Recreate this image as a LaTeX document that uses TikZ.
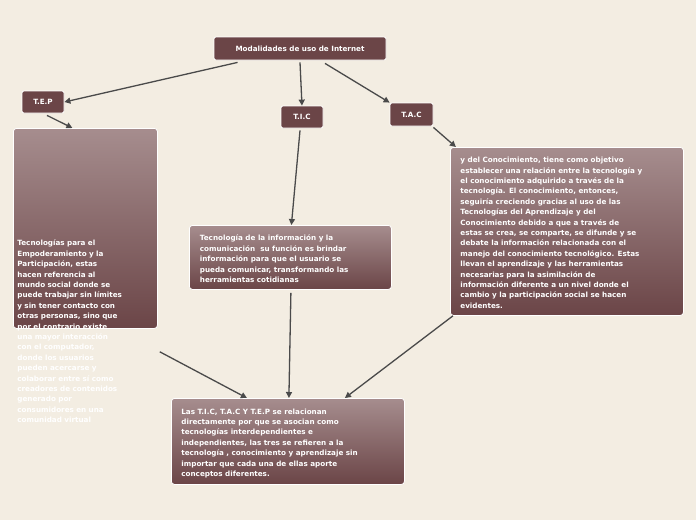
\documentclass[tikz,border=0pt]{standalone}
\usepackage{fontspec}
\setmainfont{DejaVu Sans}
\usetikzlibrary{arrows.meta}
\definecolor{bg}{HTML}{F3EDE2}
\definecolor{topc}{HTML}{A68D8E}
\definecolor{botc}{HTML}{6B4547}
\definecolor{arr}{HTML}{4A4A4A}
\tikzset{
 bx/.style={draw=white,line width=0.8pt,rounded corners=3pt,top color=topc,bottom color=botc,text=white,font=\bfseries\fontsize{7.2}{10.4}\selectfont,align=left,inner sep=0pt,anchor=north west},
 lbl/.style={draw=white,line width=0.8pt,rounded corners=2pt,fill=botc,text=white,font=\bfseries\fontsize{7.2}{9}\selectfont,inner sep=0pt},
 ar/.style={draw=arr,line width=1.3pt,-{Triangle[length=6pt,width=6pt]}}
}
\begin{document}
\begin{tikzpicture}[x=1pt,y=-1pt]
\fill[bg] (0,0) rectangle (696,520);
\useasboundingbox (0,0) rectangle (696,520);
\node[lbl,minimum width=172pt,minimum height=23pt] (title) at (300,48.5) {Modalidades de uso de Internet};
\node[lbl,minimum width=42pt,minimum height=22pt] (tep) at (43,102) {T.E.P};
\node[lbl,minimum width=42pt,minimum height=22pt] (tic) at (302,117) {T.I.C};
\node[lbl,minimum width=43pt,minimum height=23pt] (tac) at (411.5,114.5) {T.A.C};
\node[bx,minimum width=144pt,minimum height=200pt,text width=136pt,text depth=0pt] (tepd) at (13,128) {\rule{0pt}{14pt}\hspace{9pt}\parbox[t]{132pt}{Tecnologías para el\\Empoderamiento y la\\Participación, estas\\hacen referencia al\\mundo social donde se\\puede trabajar sin límites\\y sin tener contacto con\\otras personas, sino que\\por el contrario existe\\una mayor interacción\\con el computador,\\donde los usuarios\\pueden acercarse y\\colaborar entre sí como\\creadores de contenidos\\generado por\\consumidores en una\\comunidad virtual}};
\node[bx,minimum width=202pt,minimum height=64pt] (ticd) at (189,225) {\hspace{9pt}\parbox[t]{190pt}{\vspace{3pt}Tecnología de la información y la\\comunicación\ \ su función es brindar\\información para que el usuario se\\pueda comunicar, transformando las\\herramientas cotidianas}};
\node[bx,minimum width=233pt,minimum height=168pt] (tacd) at (450,147) {\hspace{9pt}\parbox[t]{222pt}{\vspace{3pt}y del Conocimiento, tiene como objetivo\\establecer una relación entre la tecnología y\\el conocimiento adquirido a través de la\\tecnología. El conocimiento, entonces,\\seguiría creciendo gracias al uso de las\\Tecnologías del Aprendizaje y del\\Conocimiento debido a que a través de\\estas se crea, se comparte, se difunde y se\\debate la información relacionada con el\\manejo del conocimiento tecnológico. Estas\\llevan el aprendizaje y las herramientas\\necesarias para la asimilación de\\información diferente a un nivel donde el\\cambio y la participación social se hacen\\evidentes.}};
\node[bx,minimum width=233pt,minimum height=86pt] (bot) at (171,398) {\hspace{9pt}\parbox[t]{222pt}{\vspace{4pt}Las T.I.C, T.A.C Y T.E.P se relacionan\\directamente por que se asocian como\\tecnologías interdependientes e\\independientes, las tres se refieren a la\\tecnología , conocimiento y aprendizaje sin\\importar que cada una de ellas aporte\\conceptos diferentes.}};
\draw[ar] (title.south west)++(24,2) -- (tep.east);
\draw[ar] (title.south)++(0,2) -- (tic.north);
\draw[ar] (title.south)++(25,3) -- (tac.north west);
\draw[ar] (tep.south)++(4,2) -- ([xshift=-13pt]tepd.north);
\draw[ar] (tic.south)++(-2,2) -- ([xshift=1pt]ticd.north);
\draw[ar] (tac.south east)++(0,1) -- ([xshift=-111pt]tacd.north);
\draw[ar] ([yshift=-23pt]tepd.south east)++(2,0) -- ([xshift=-41pt]bot.north);
\draw[ar] ([yshift=-3pt]ticd.south)++(0.5,0) -- ([xshift=1pt]bot.north);
\draw[ar] ([xshift=3pt]tacd.south west) -- ([xshift=57pt]bot.north);
\end{tikzpicture}
\end{document}
